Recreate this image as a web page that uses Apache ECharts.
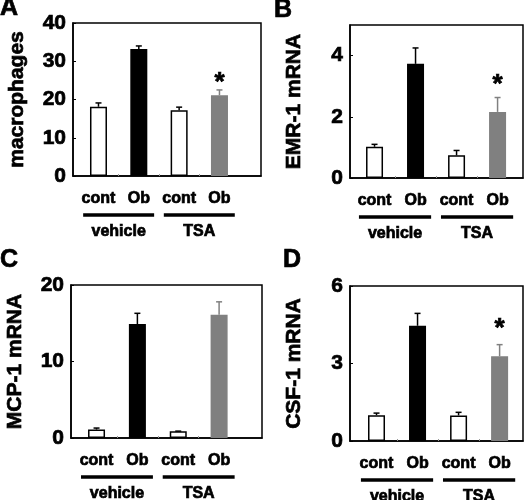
<!DOCTYPE html>
<html>
<head>
<meta charset="utf-8">
<script src="https://cdn.jsdelivr.net/npm/echarts@6/dist/echarts.min.js"></script>
<style>
html,body{margin:0;padding:0;background:#fff;}
#c{width:524px;height:500px;}
</style>
</head>
<body>
<div id="c"></div>
<script>
// ---- data ----
const categories = ['cont', 'Ob', 'cont', 'Ob'];
const groupNames = ['vehicle', 'TSA'];
const groupSpans = [[0, 1], [2, 3]];
const panelLetters = ['A', 'B', 'C', 'D'];
const yNames = ['macrophages', 'EMR-1 mRNA', 'MCP-1 mRNA', 'CSF-1 mRNA'];

const macrophagesMean = [18.1, 33.2, 17.2, 21.1];
const macrophagesUpper = [19.1, 34.0, 18.0, 22.5];
const emr1Mean = [1.02, 3.73, 0.74, 2.16];
const emr1Upper = [1.1, 4.25, 0.9, 2.63];
const mcp1Mean = [1.1, 14.9, 0.88, 16.1];
const mcp1Upper = [1.3, 16.3, 0.9, 17.8];
const csf1Mean = [1.0, 4.46, 0.99, 3.28];
const csf1Upper = [1.08, 4.94, 1.11, 3.73];

const yTicksA = [0, 10, 20, 30, 40];
const yTicksB = [0, 2, 4];
const yTicksC = [0, 10, 20];
const yTicksD = [0, 3, 6];
const yMax = [40, 5, 20, 6];

const starsA = [[3, 25.6]];
const starsB = [[3, 3.21]];
const starsC = [];
const starsD = [[3, 4.52]];

// ---- styles / layout ----
const FONT = '"Liberation Sans", Arial, sans-serif';
const barFill = ['#ffffff', '#000000', '#ffffff', '#808080'];
const barBorder = ['#000000', '#000000', '#000000', '#808080'];
const errColor = ['#000000', '#000000', '#000000', '#808080'];
const barWidths = [17, 18, 17, 19];

const grids = [
  {left: 73, top: 23, width: 188, height: 153},
  {left: 350, top: 25, width: 173, height: 153},
  {left: 71, top: 285, width: 191, height: 153},
  {left: 350, top: 286, width: 173, height: 155}
];
const xRanges = [[-0.632, 4.03], [-0.598, 3.62], [-0.625, 4.05], [-0.646, 3.57]];
const letterPos = [[0, -4], [274, -2], [0, 248], [283, 248]];
const heavy = {textBorderColor: '#000', textBorderWidth: 0.7};

const means = [macrophagesMean, emr1Mean, mcp1Mean, csf1Mean];
const uppers = [macrophagesUpper, emr1Upper, mcp1Upper, csf1Upper];
const yTicks = [yTicksA, yTicksB, yTicksC, yTicksD];
const stars = [starsA, starsB, starsC, starsD];

const option = {
  animation: false,
  backgroundColor: '#fff',
  title: panelLetters.map((t, i) => ({
    text: t, left: letterPos[i][0], top: letterPos[i][1], padding: 0,
    textStyle: Object.assign({fontFamily: FONT, fontWeight: 'bold', fontSize: 25, color: '#000'}, heavy)
  })),
  grid: grids.map(g => Object.assign({show: true, borderColor: '#000', borderWidth: 1.5, backgroundColor: 'transparent'}, g)),
  xAxis: grids.map((g, i) => ({
    type: 'value', gridIndex: i, min: xRanges[i][0], max: xRanges[i][1],
    splitLine: {show: false},
    axisLine: {show: true, onZero: false, lineStyle: {color: '#000', width: 1.5}},
    axisTick: {show: true, inside: true, length: 2, customValues: [0.5, 1.5, 2.5], lineStyle: {color: '#999', width: 1}},
    axisLabel: Object.assign({
      customValues: [0, 1, 2, 3], margin: 15,
      formatter: v => categories[Math.round(v)],
      fontFamily: FONT, fontWeight: 'bold', fontSize: 16, color: '#000'
    }, heavy)
  })),
  yAxis: grids.map((g, i) => ({
    type: 'value', gridIndex: i, min: 0, max: yMax[i],
    name: yNames[i], nameLocation: 'middle', nameGap: 45,
    nameTextStyle: Object.assign({fontFamily: FONT, fontWeight: 'bold', fontSize: 21, color: '#000'}, heavy),
    splitLine: {show: false},
    axisLine: {show: true, onZero: false, lineStyle: {color: '#000', width: 1.5}},
    axisTick: {show: true, inside: true, length: 3, customValues: yTicks[i], lineStyle: {color: '#000', width: 1}},
    axisLabel: Object.assign({
      customValues: yTicks[i], margin: 7,
      fontFamily: FONT, fontWeight: 'bold', fontSize: 21, color: '#000'
    }, heavy)
  })),
  series: []
};

for (let i = 0; i < 4; i++) {
  option.series.push({
    type: 'bar', xAxisIndex: i, yAxisIndex: i, barWidth: 17, barGap: '-100%',
    data: means[i].map((v, k) => ({
      value: [k, v],
      itemStyle: {color: barFill[k], borderColor: barBorder[k], borderWidth: 1.5}
    }))
  });
  option.series.push({
    type: 'custom', xAxisIndex: i, yAxisIndex: i, clip: false, z: 3,
    data: means[i].map((v, k) => [k, v, uppers[i][k]]),
    encode: {x: 0, y: [1, 2]},
    renderItem: (params, api) => {
      const x = api.value(0);
      const p0 = api.coord([x, api.value(1)]);
      const p1 = api.coord([x, api.value(2)]);
      const c = errColor[params.dataIndex];
      return {
        type: 'group', children: [
          {type: 'line', shape: {x1: p0[0], y1: p0[1], x2: p1[0], y2: p1[1]}, style: {stroke: c, lineWidth: 1.5}},
          {type: 'line', shape: {x1: p1[0] - 3, y1: p1[1], x2: p1[0] + 3, y2: p1[1]}, style: {stroke: c, lineWidth: 1.5}}
        ]
      };
    }
  });
  if (stars[i].length) {
    option.series.push({
      type: 'custom', xAxisIndex: i, yAxisIndex: i, clip: false, z: 4,
      data: stars[i],
      renderItem: (params, api) => {
        const p = api.coord([api.value(0), api.value(1)]);
        return {
          type: 'text', x: p[0], y: p[1] + 5,
          style: {text: '*', fill: '#000', font: 'bold 26px ' + FONT, align: 'center', verticalAlign: 'middle', stroke: '#000', lineWidth: 0.7}
        };
      }
    });
  }
  option.series.push({
    type: 'custom', xAxisIndex: i, yAxisIndex: i, clip: false, z: 4,
    data: groupSpans,
    renderItem: (params, api) => {
      const a = api.coord([api.value(0), 0]);
      const b = api.coord([api.value(1), 0]);
      const ext = api.size([1, 0])[0] * 0.38;
      const y = a[1] + 39;
      return {
        type: 'group', children: [
          {type: 'line', shape: {x1: a[0] - ext, y1: y, x2: b[0] + ext, y2: y}, style: {stroke: '#000', lineWidth: 3.5}},
          {type: 'text', x: (a[0] + b[0]) / 2, y: y + 17,
            style: {text: groupNames[params.dataIndex], fill: '#000', font: 'bold 16px ' + FONT, align: 'center', verticalAlign: 'middle', stroke: '#000', lineWidth: 0.7}}
        ]
      };
    }
  });
}

const chart = echarts.init(document.getElementById('c'));
chart.setOption(option);
</script>
</body>
</html>
